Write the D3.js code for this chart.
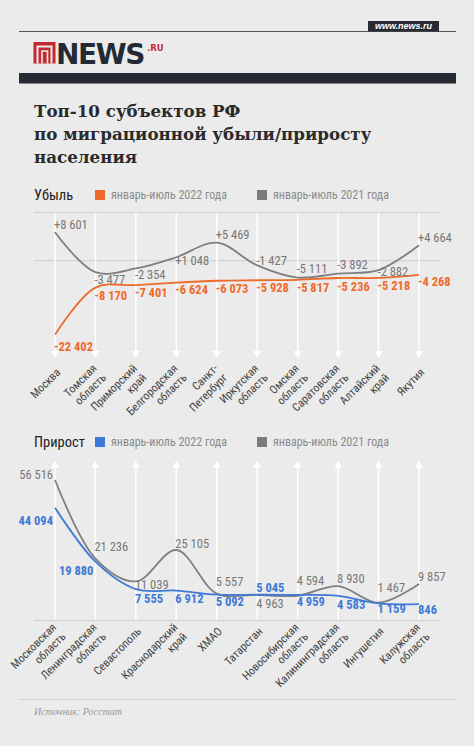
<!DOCTYPE html>
<html><head><meta charset="utf-8">
<script src="https://cdn.jsdelivr.net/npm/d3@7"></script>
<style>
html,body{margin:0;padding:0;background:#ebebeb;}
svg{display:block;}
</style></head><body>
<svg id="c" width="474" height="746"></svg>
<script>
// ---------- DATA ----------
const lossRegions = [["Москва"],["Томская","область"],["Приморский","край"],["Белгородская","область"],["Санкт-","Петербург"],["Иркутская","область"],["Омская","область"],["Саратовская","область"],["Алтайский","край"],["Якутия"]];
const loss2022 = [-22402,-8170,-7401,-6624,-6073,-5928,-5817,-5236,-5218,-4268];
const loss2021 = [8601,-3477,-2354,1048,5469,-1427,-5111,-3892,-2882,4664];
const gainRegions = [["Московская","область"],["Ленинградская","область"],["Севастополь"],["Краснодарский","край"],["ХМАО"],["Татарстан"],["Новосибирская","область"],["Калининградская","область"],["Ингушетия"],["Калужская","область"]];
const gain2022 = [44094,19880,7555,6912,5092,5045,4959,4583,1159,846];
const gain2021 = [56516,21236,11039,25105,5557,4963,4594,8930,1467,9857];
const seriesNames = ["январь-июль 2022 года","январь-июль 2021 года"];
const titleLines = ["Топ-10 субъектов РФ","по миграционной убыли/приросту","населения"];
const panelTitles = ["Убыль","Прирост"];
const sourceText = "Источник: Росстат";

// ---------- LAYOUT (label nudges) ----------
const topGrayDy = [-8,7,6.5,3,-8,-4.4,-8.6,-8.5,1.8,-8];
const topOrangeDy = [11.5,7.5,7.5,7.5,8.3,7.7,7.8,9,8.1,7];
const botGrayDy = [-5.7,-12,3.6,-6.7,-12,8.4,-14.8,-7.8,-15,-7.3];
const botBlueDy = [13,9,9.8,8.4,7.1,-7.4,6.8,9.2,4.9,5.9];
const botGrayEnd = [true,false,false,false,false,false,false,false,false,false];
const botBlueEnd = [true,true,false,false,false,false,false,false,false,false];

const ORANGE="#ee6a2b", BLUE="#3f79d6", GRAY="#7f7f7f", GRAYTXT="#777";
const NARROW="'Liberation Sans Narrow','Arial Narrow','Roboto Condensed','DejaVu Sans Condensed',sans-serif";

const svg = d3.select("#c");
svg.append("rect").attr("width",474).attr("height",746).attr("fill","#ebebeb");

// ---------- HEADER ----------
svg.append("line").attr("x1",19).attr("x2",456).attr("y1",31.5).attr("y2",31.5).attr("stroke","#555").attr("stroke-width",1);
svg.append("rect").attr("x",368).attr("y",21).attr("width",71).attr("height",10.5).attr("fill","#262b33");
svg.append("text").attr("x",403.5).attr("y",29.3).attr("text-anchor","middle").attr("fill","#fff")
  .attr("font-family","'Liberation Sans',sans-serif").attr("font-size",9).attr("font-weight","bold").attr("font-style","italic").text("www.news.ru");
// logo
const logo = svg.append("g");
logo.append("rect").attr("x",33.5).attr("y",42).attr("width",22).attr("height",21.5).attr("fill","#c42b30");
logo.append("path").attr("d","M37.5,63.5V46.5H51.5V63.5").attr("fill","none").attr("stroke","#ebebeb").attr("stroke-width",2);
logo.append("path").attr("d","M42,63.5V51H47.5V63.5").attr("fill","none").attr("stroke","#ebebeb").attr("stroke-width",1.6);
logo.append("text").attr("x",56).attr("y",63.5).attr("font-family","'DejaVu Sans',sans-serif").attr("font-weight",900)
  .attr("font-size",28).attr("fill","#232a33").attr("letter-spacing",-1.4).text("NEWS");
logo.append("text").attr("x",147).attr("y",50.5).attr("font-family","'DejaVu Sans',sans-serif").attr("font-weight","bold")
  .attr("font-size",8.5).attr("fill","#c42b30").text(".RU");
svg.append("rect").attr("x",19).attr("y",73).attr("width",437).attr("height",10.5).attr("fill","#262b33");

// ---------- TITLE ----------
const tt = svg.append("text").attr("font-family","'DejaVu Serif',serif").attr("font-weight","bold").attr("font-size",16.7).attr("fill","#2a2a2a");
titleLines.forEach((l,i)=>tt.append("tspan").attr("x",34).attr("y",117+i*23).text(l));

// ---------- helpers ----------
const loc = d3.formatLocale({decimal:",",thousands:"\u00a0",grouping:[3],currency:["",""],minus:"-"});
const fmtSigned = loc.format("+,d"), fmtPlain = loc.format(",d");
const x = d3.scalePoint().domain(d3.range(10)).range([55,419]);
const curve = d3.curveCatmullRom.alpha(0.5);

function legend(y, color, title){
  svg.append("text").attr("x",34).attr("y",y).attr("dy","0.35em").attr("font-family",NARROW).attr("font-size",14.5).attr("fill","#222").text(title);
  [[95,color,seriesNames[0]],[257,"#7b7b7b",seriesNames[1]]].forEach(([lx,c,t])=>{
    svg.append("rect").attr("x",lx).attr("y",y-5).attr("width",10).attr("height",10).attr("fill",c);
    svg.append("text").attr("x",lx+16).attr("y",y).attr("dy","0.35em").attr("font-family",NARROW).attr("font-size",12).attr("fill","#8a8a8a").text(t);
  });
}
function axisLabels(regions, y0){
  regions.forEach((lines,i)=>{
    const g = svg.append("g").attr("transform",`translate(${x(i)+2},${y0}) rotate(-45)`);
    const t = g.append("text").attr("text-anchor","end").attr("font-family",NARROW).attr("font-size",11.5).attr("fill","#444");
    lines.forEach((l,j)=>t.append("tspan").attr("x",0).attr("y",0).attr("dy",(lines.length===1?0.5:j*1.15)+"em").text(l));
  });
}
function valueLabels(vals, y, dys, fmt, color, bold, endFlags){
  vals.forEach((v,i)=>{
    const isEnd = endFlags && endFlags[i];
    svg.append("text").attr("x",x(i)+(isEnd?-2:-1)).attr("y",y(v)+dys[i]).attr("dy","0.35em")
      .attr("text-anchor",isEnd?"end":"start").attr("font-family",NARROW).attr("font-size",12.5)
      .attr("font-weight",bold?"bold":"normal").attr("fill",color).text(fmt(v));
  });
}

// ---------- TOP CHART (Убыль) ----------
legend(195, ORANGE, panelTitles[0]);
const yTop = d3.scaleLinear().domain([0,-10000]).range([260.7,293.7]);
svg.append("line").attr("x1",34).attr("x2",440).attr("y1",212.5).attr("y2",212.5).attr("stroke","#cfcfcf");
svg.append("line").attr("x1",34).attr("x2",440).attr("y1",yTop(0)).attr("y2",yTop(0)).attr("stroke","#cfcfcf");
d3.range(10).forEach(i=>{
  svg.append("line").attr("x1",x(i)).attr("x2",x(i)).attr("y1",213).attr("y2",353).attr("stroke","#fff").attr("stroke-width",1.5);
  svg.append("path").attr("d",`M${x(i)-4},351L${x(i)+4},351L${x(i)},358Z`).attr("fill","#fff");
});
const lineTop = d3.line().x((d,i)=>x(i)).y(d=>yTop(d)).curve(curve);
svg.append("path").attr("d",lineTop(loss2021)).attr("fill","none").attr("stroke",GRAY).attr("stroke-width",1.8);
svg.append("path").attr("d",lineTop(loss2022)).attr("fill","none").attr("stroke",ORANGE).attr("stroke-width",1.8);
valueLabels(loss2021, yTop, topGrayDy, fmtSigned, GRAYTXT, false);
valueLabels(loss2022, yTop, topOrangeDy, fmtSigned, ORANGE, true);
axisLabels(lossRegions, 369);

// ---------- BOTTOM CHART (Прирост) ----------
legend(442, BLUE, panelTitles[1]);
const yBot = d3.scaleLinear().domain([0,10000]).range([606,583.7]);
d3.range(10).forEach(i=>{
  svg.append("line").attr("x1",x(i)).attr("x2",x(i)).attr("y1",466).attr("y2",620).attr("stroke","#fff").attr("stroke-width",1.5);
  svg.append("path").attr("d",`M${x(i)-4},468L${x(i)+4},468L${x(i)},461Z`).attr("fill","#fff");
});
svg.append("line").attr("x1",34).attr("x2",440).attr("y1",620.5).attr("y2",620.5).attr("stroke","#cfcfcf");
const lineBot = d3.line().x((d,i)=>x(i)).y(d=>yBot(d)).curve(curve);
svg.append("path").attr("d",lineBot(gain2021)).attr("fill","none").attr("stroke",GRAY).attr("stroke-width",1.8);
svg.append("path").attr("d",lineBot(gain2022)).attr("fill","none").attr("stroke",BLUE).attr("stroke-width",1.8);
valueLabels(gain2021, yBot, botGrayDy, fmtPlain, GRAYTXT, false, botGrayEnd);
valueLabels(gain2022, yBot, botBlueDy, fmtPlain, BLUE, true, botBlueEnd);
axisLabels(gainRegions, 628);

// ---------- SOURCE ----------
svg.append("line").attr("x1",19).attr("x2",456).attr("y1",699.5).attr("y2",699.5).attr("stroke","#cccccc");
svg.append("text").attr("x",34).attr("y",714.5).attr("font-family","'Liberation Serif',serif").attr("font-style","italic")
  .attr("font-size",10).attr("fill","#9a9a9a").text(sourceText);
</script>
</body></html>
